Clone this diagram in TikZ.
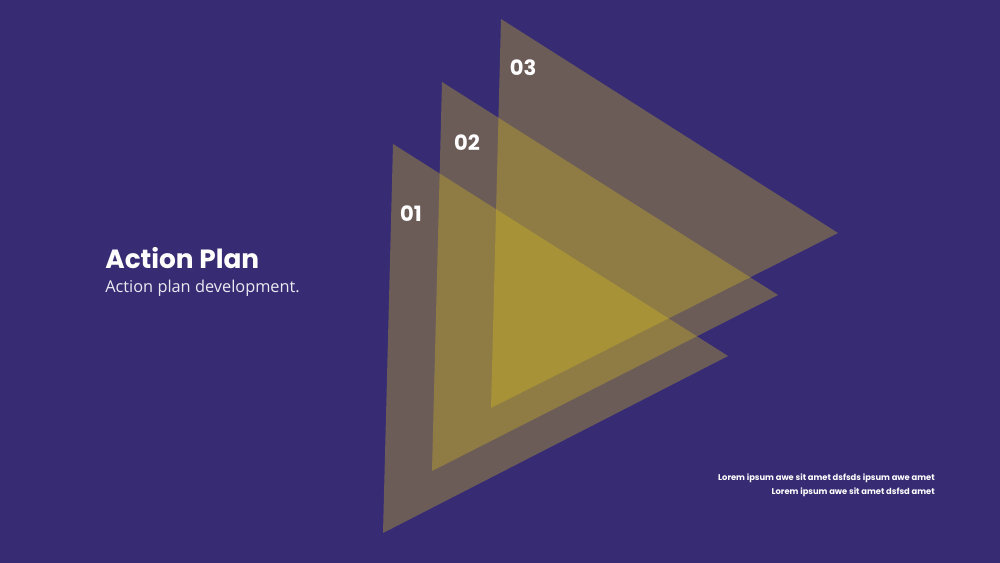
\documentclass[tikz,border=0pt]{standalone}
\usepackage{fontspec}
\setmainfont{Open Sans}
\newfontfamily\headfont{Poppins}
\definecolor{bgpurple}{HTML}{372C74}
\definecolor{triyellow}{HTML}{D8C020}
\begin{document}
\begin{tikzpicture}[x=0.02cm, y=-0.02cm,
       tri/.style={fill=triyellow, fill opacity=0.33},
       num/.style={text=white, font=\headfont\bfseries\fontsize{12}{14}\selectfont, inner sep=0pt},
       lorem/.style={text=white, font=\headfont\bfseries\fontsize{4.75}{6}\selectfont, inner sep=0pt, anchor=east}]
\fill[bgpurple] (0,0) rectangle (1000,563);
\useasboundingbox (0,0) rectangle (1000,563);
% triangles
\fill[tri] (393,144) -- (728,356) -- (383,533) -- cycle;
\fill[tri] (442,82) -- (778,295) -- (432,471) -- cycle;
\fill[tri] (501,19) -- (838,233) -- (491,408) -- cycle;
\node[num] (n1) at (411,214) {01};
\node[num] (n2) at (467,143) {02};
\node[num] (n3) at (523,68) {03};
% title
\node[anchor=base west, inner sep=0pt, text=white,
      font=\headfont\bfseries\fontsize{15}{17}\selectfont] (title) at (105,269) {Action Plan};
\node[anchor=base west, inner sep=0pt, text=white!90!bgpurple,
      font=\fontsize{9.3}{11}\selectfont] (sub) at (105,293) {Action plan development.};
\node[lorem] (l1) at (935,478) {Lorem ipsum awe sit amet dsfsds ipsum awe amet};
\node[lorem] (l2) at (935,492) {Lorem ipsum awe sit amet dsfsd amet};
\end{tikzpicture}
\end{document}
